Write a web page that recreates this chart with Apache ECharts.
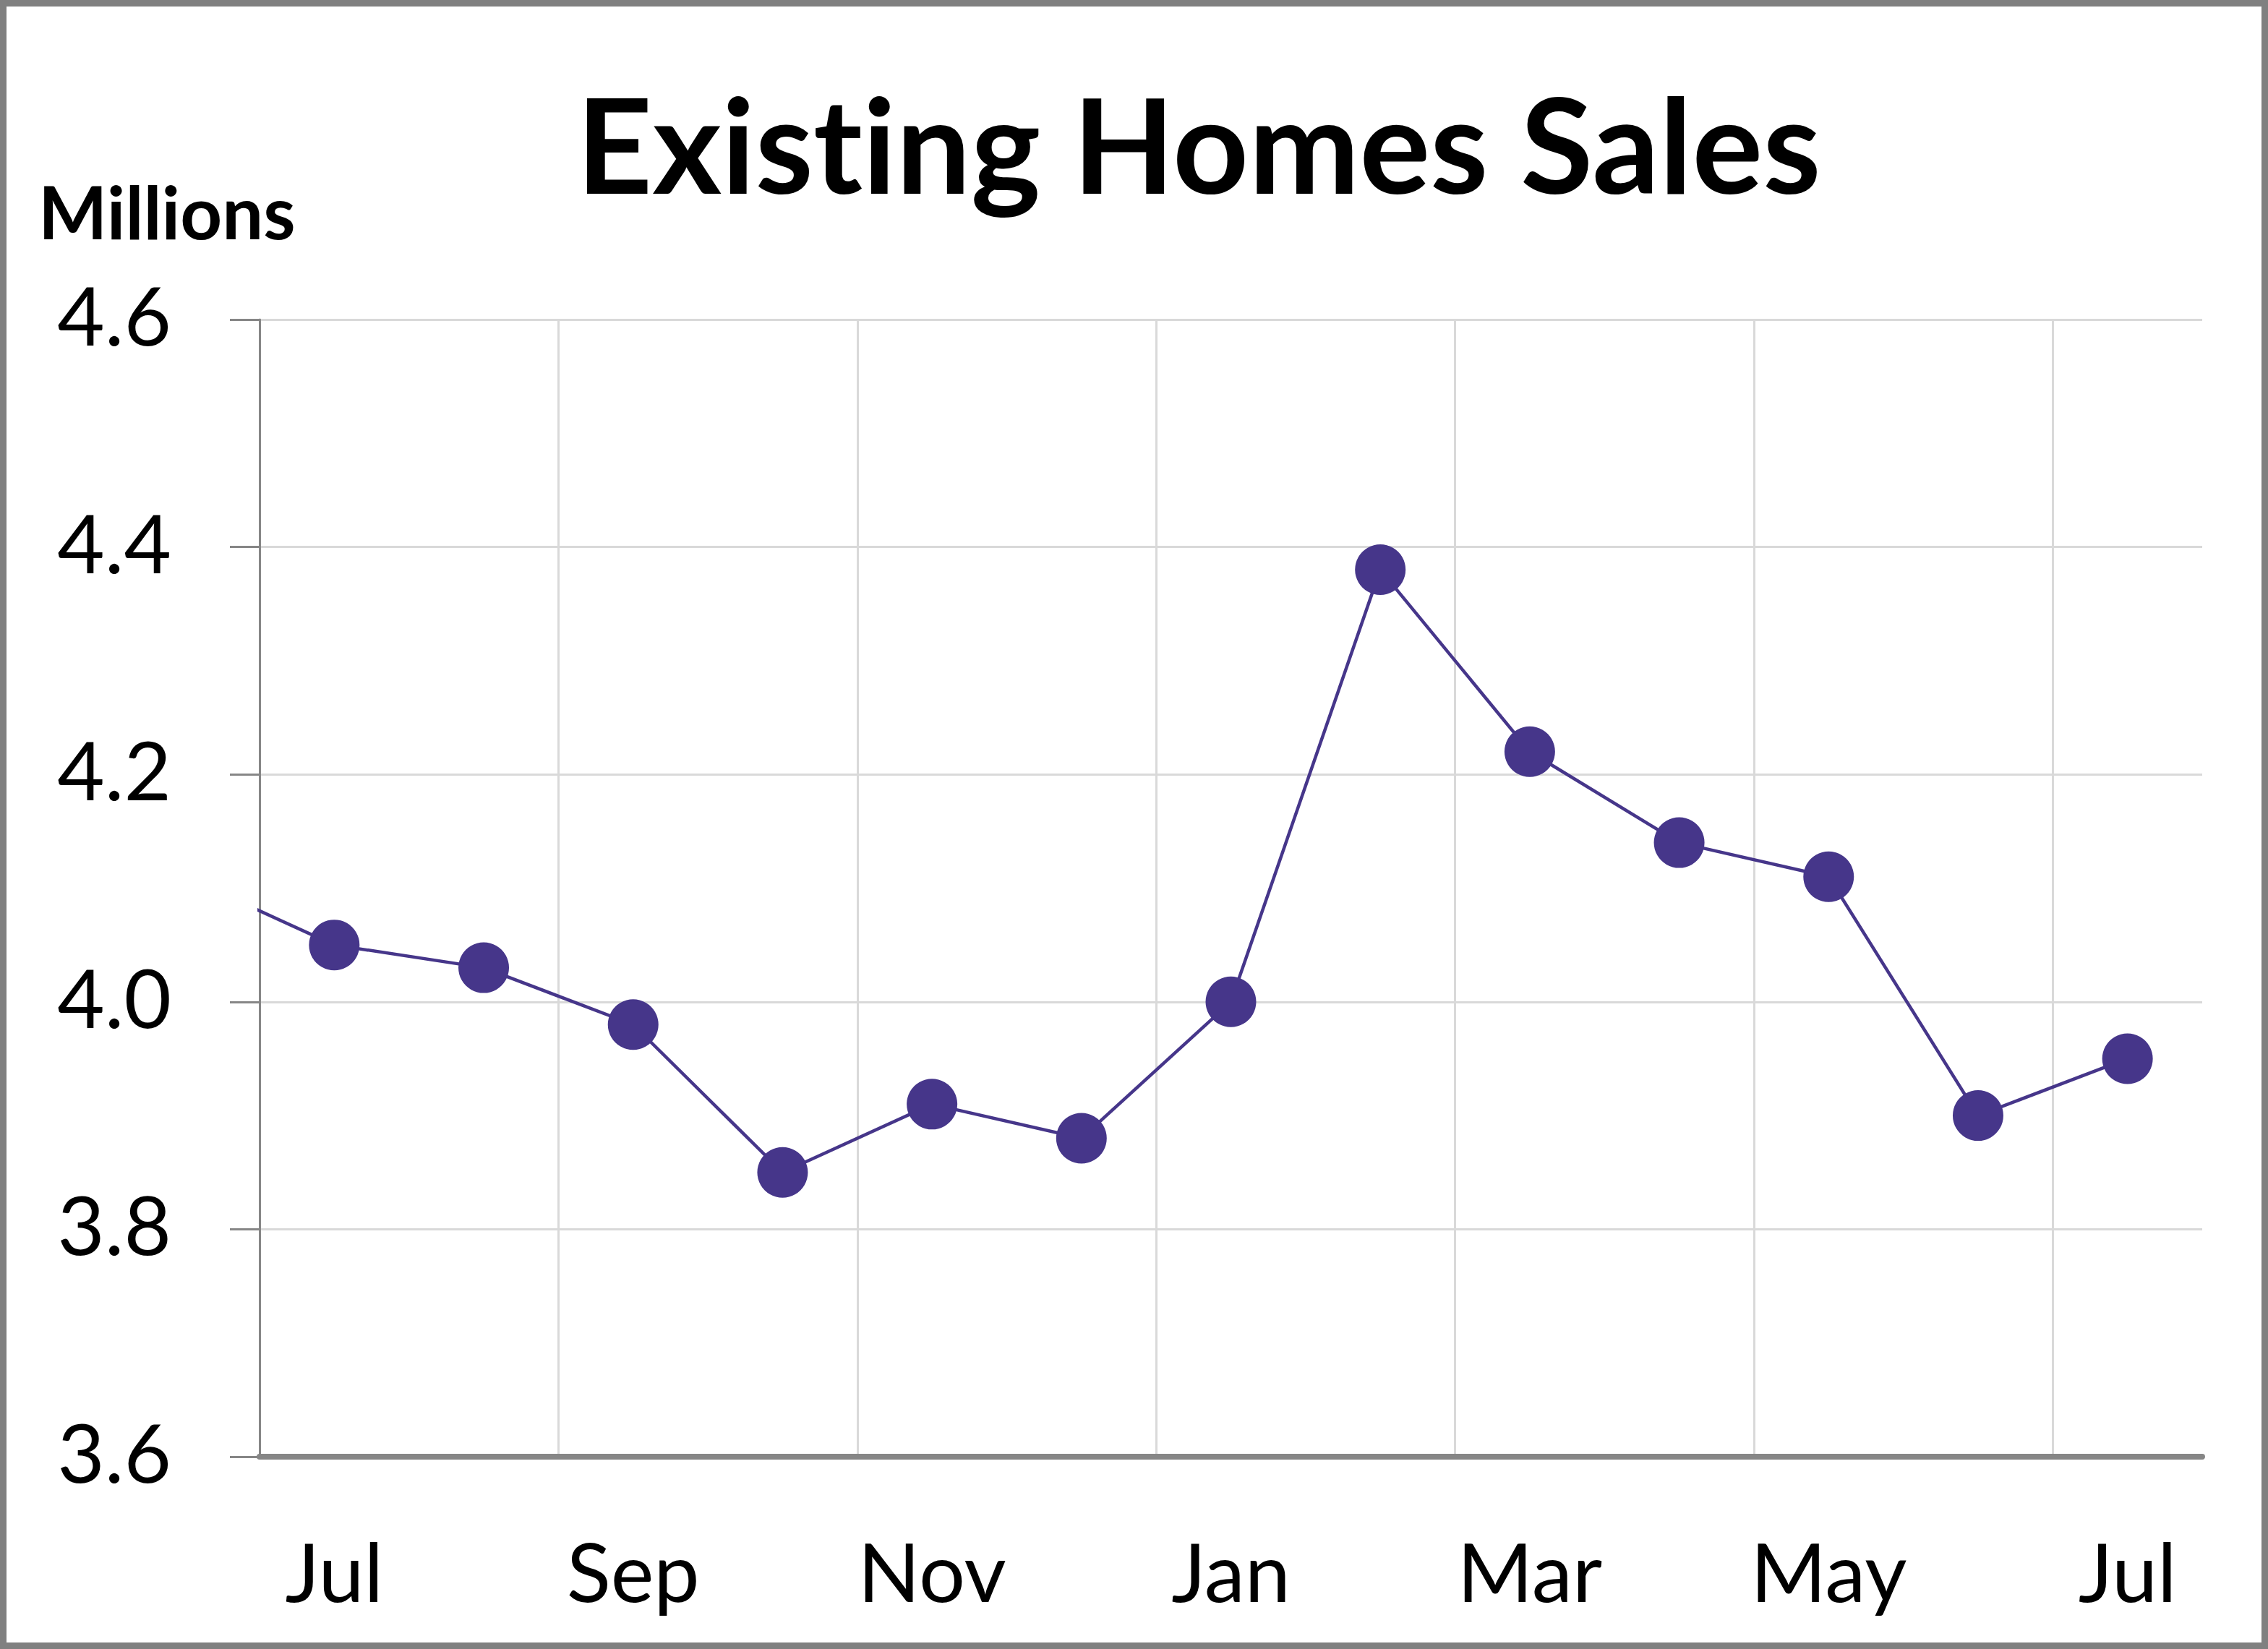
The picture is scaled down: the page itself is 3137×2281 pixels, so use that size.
<!DOCTYPE html>
<html>
<head>
<meta charset="utf-8">
<script src="https://cdn.jsdelivr.net/npm/echarts@6/dist/echarts.min.js"></script>
<style>
  html, body { margin: 0; padding: 0; background: #ffffff; }
  #chart { width: 3137px; height: 2281px; }
  #chart text { font-variant-ligatures: none; font-feature-settings: "liga" 0, "clig" 0; }
</style>
</head>
<body>
<div id="chart"></div>
<script>
// Months, including the June before the first shown July (its point lies left of the plot and is clipped)
const months = ['Jun', 'Jul', 'Aug', 'Sep', 'Oct', 'Nov', 'Dec', 'Jan', 'Feb', 'Mar', 'Apr', 'May', 'Jun', 'Jul'];
// Existing home sales, millions (annual rate)
const sales = [4.11, 4.05, 4.03, 3.98, 3.85, 3.91, 3.88, 4.00, 4.38, 4.22, 4.14, 4.11, 3.90, 3.95];
// Visible month slots on the axis (labels shown every other month)
const axisMonths = months.slice(1);
const yTicks = [3.6, 3.8, 4.0, 4.2, 4.4, 4.6];

const FONT = 'Lato, "Open Sans", sans-serif';
const LINE = '#46368a';
const AXIS = '#868686';
const GRID = '#d9d9d9';

// month slot position: first shown month sits at slot centre 0.5
const seriesData = sales.map(function (v, i) {
  const item = { value: [i - 0.5, v] };
  if (i === 0) item.symbol = 'none';
  return item;
});

const chart = echarts.init(document.getElementById('chart'), null, { renderer: 'svg' });
chart.setOption({
  animation: false,
  backgroundColor: '#ffffff',
  title: [
    {
      text: 'Existing Homes Sales',
      left: 1653,
      top: 100,
      textAlign: 'center',
      textStyle: { fontFamily: FONT, fontWeight: 'bold', fontSize: 183, color: '#000000' }
    },
    {
      text: 'Millions',
      left: 48,
      top: 236,
      textStyle: { fontFamily: FONT, fontWeight: 'bold', fontSize: 101, color: '#000000' }
    }
  ],
  graphic: [
    {
      type: 'rect',
      shape: { x: 4.5, y: 4.5, width: 3128, height: 2272 },
      style: { fill: 'none', stroke: '#808080', lineWidth: 9 },
      silent: true,
      z: 100
    }
  ],
  grid: { left: 359, right: 91, top: 442, bottom: 266, containLabel: false },
  xAxis: [
    {
      type: 'value',
      min: 0,
      max: axisMonths.length,
      interval: 2,
      axisLine: { show: true, onZero: false, lineStyle: { color: AXIS, width: 8 } },
      axisTick: { show: false },
      axisLabel: { show: false },
      splitLine: { show: true, showMinLine: false, showMaxLine: false, lineStyle: { color: GRID, width: 3 } }
    },
    {
      type: 'category',
      position: 'bottom',
      data: axisMonths,
      boundaryGap: true,
      axisLine: { show: false },
      axisTick: { show: false },
      splitLine: { show: false },
      axisLabel: {
        interval: 1,
        margin: 100,
        fontFamily: FONT,
        fontSize: 113,
        color: '#000000'
      }
    }
  ],
  yAxis: {
    type: 'value',
    min: yTicks[0],
    max: yTicks[yTicks.length - 1],
    interval: 0.2,
    axisLine: { show: true, onZero: false, lineStyle: { color: AXIS, width: 3 } },
    axisTick: { show: true, length: 41, lineStyle: { color: AXIS, width: 3 } },
    axisLabel: {
      margin: 122,
      verticalAlign: 'bottom',
      lineHeight: 16,
      fontFamily: FONT,
      fontSize: 113,
      color: '#000000',
      formatter: function (v) { return v.toFixed(1); }
    },
    splitLine: { show: true, lineStyle: { color: GRID, width: 3 } }
  },
  series: [
    {
      type: 'line',
      xAxisIndex: 0,
      yAxisIndex: 0,
      data: seriesData,
      clip: true,
      symbol: 'circle',
      symbolSize: 70,
      showAllSymbol: true,
      lineStyle: { color: LINE, width: 4.5 },
      itemStyle: { color: LINE, borderWidth: 0 },
      z: 5
    }
  ]
});
</script>
</body>
</html>
